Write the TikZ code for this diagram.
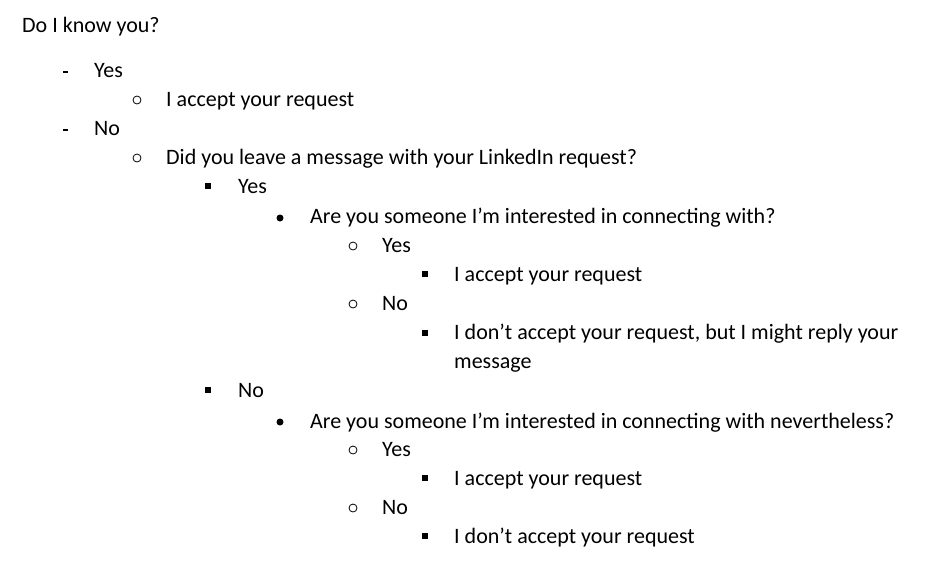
\documentclass[tikz,border=0pt]{standalone}
\usepackage{fontspec}
\setmainfont{Carlito}
\begin{document}
\begin{tikzpicture}[x=1pt,y=-1pt,
  txt/.style={anchor=base west,inner sep=0pt,font=\fontsize{22}{26}\selectfont},
  dashb/.style={fill=black,minimum width=5pt,minimum height=1.2pt,inner sep=0pt},
  ocirc/.style={circle,draw=black,line width=0.8pt,minimum size=8pt,inner sep=0pt},
  sqb/.style={fill=black,minimum size=6pt,inner sep=0pt},
  dotb/.style={circle,fill=black,minimum size=7pt,inner sep=0pt}]
\useasboundingbox (0,0) rectangle (925,560);
\fill[white] (0,0) rectangle (925,560);
\node[txt] (q1) at (22,32) {Do I know you?};
\node[dashb] (b1) at (65,72) {};
\node[txt] (t1) at (94,77) {Yes};
\node[ocirc] (b2) at (137,100) {};
\node[txt] (t2) at (166,106) {I accept your request};
\node[dashb] (b3) at (65,130) {};
\node[txt] (t3) at (94,135) {No};
\node[ocirc] (b4) at (137,158) {};
\node[txt] (t4) at (166,164) {Did you leave a message with your LinkedIn request?};
\node[sqb] (b5) at (208,186) {};
\node[txt] (t5) at (238,193) {Yes};
\node[dotb] (b6) at (280,218) {};
\node[txt] (t6) at (310,223) {Are you someone I’m interested in connecting with?};
\node[ocirc] (b7) at (353,246) {};
\node[txt] (t7) at (382,252) {Yes};
\node[sqb] (b8) at (425,274) {};
\node[txt] (t8) at (454,281) {I accept your request};
\node[ocirc] (b9) at (353,304) {};
\node[txt] (t9) at (382,310) {No};
\node[sqb] (b10) at (425,333) {};
\node[txt] (t10) at (454,339) {I don’t accept your request, but I might reply your};
\node[txt] (t10b) at (454,368) {message};
\node[sqb] (b11) at (208,390) {};
\node[txt] (t11) at (238,397) {No};
\node[dotb] (b12) at (280,422) {};
\node[txt] (t12) at (310,428) {Are you someone I’m interested in connecting with nevertheless?};
\node[ocirc] (b13) at (353,450) {};
\node[txt] (t13) at (382,456) {Yes};
\node[sqb] (b14) at (425,478) {};
\node[txt] (t14) at (454,485) {I accept your request};
\node[ocirc] (b15) at (353,508) {};
\node[txt] (t15) at (382,514) {No};
\node[sqb] (b16) at (425,536) {};
\node[txt] (t16) at (454,543) {I don’t accept your request};
\end{tikzpicture}
\end{document}
